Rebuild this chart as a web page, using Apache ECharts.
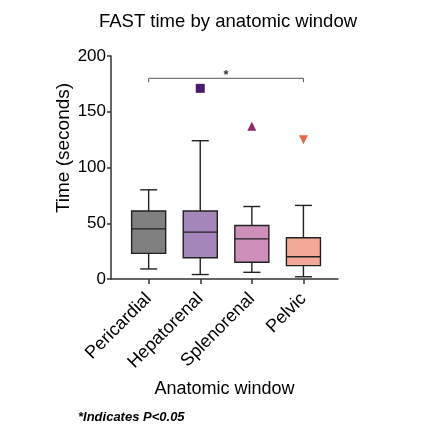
<!DOCTYPE html>
<html>
<head>
<meta charset="utf-8">
<script src="https://cdn.jsdelivr.net/npm/echarts@6/dist/echarts.min.js"></script>
<style>
  html, body { margin: 0; padding: 0; background: #fff; }
  #chart { width: 421px; height: 433px; }
</style>
</head>
<body>
<div id="chart"></div>
<script>
// values
const categories = ['Pericardial', 'Hepatorenal', 'Splenorenal', 'Pelvic'];
const whiskerLow = [9, 4, 6, 2];
const q1 = [23, 19, 15, 12];
const median = [45, 42, 36, 20];
const q3 = [61, 61, 48, 37];
const whiskerHigh = [80, 124, 65, 66];
const boxColors = ['#808080', '#a586bb', '#cb8fba', '#f4a897'];

const outlierIndex = [1, 2, 3];
const outlierValue = [171, 137, 125];
const outlierSymbol = ['rect', 'triangle', 'triangle'];
const outlierRotate = [0, 0, 180];
const outlierColor = ['#4a1b6b', '#8b2c6c', '#e8664e'];

const bracketX = [0, 0, 3, 3];
const bracketY = [176.5, 180, 180, 176.5];
const yTicks = { min: 0, max: 200, interval: 50 };

const chart = echarts.init(document.getElementById('chart'));

const boxData = categories.map((c, i) => [i, whiskerLow[i], q1[i], median[i], q3[i], whiskerHigh[i]]);
const outliers = outlierIndex.map((x, i) => ({
    value: [x, outlierValue[i]],
    symbol: outlierSymbol[i],
    symbolRotate: outlierRotate[i],
    itemStyle: { color: outlierColor[i], opacity: 1 }
}));

const lineColor = '#222';
const font = 'Liberation Sans, Arial, sans-serif';

const option = {
    animation: false,
    grid: { left: 111, right: 83, top: 56, bottom: 154 },
    xAxis: {
        type: 'value',
        min: -0.73,
        max: 3.67,
        splitLine: { show: false },
        axisLine: { onZero: false, lineStyle: { color: '#333', width: 1.5 } },
        axisTick: { customValues: [0, 1, 2, 3], length: 5, lineStyle: { color: '#333', width: 1.5 } },
        axisLabel: {
            customValues: [0, 1, 2, 3],
            formatter: v => categories[Math.round(v)],
            rotate: 45,
            margin: 17,
            color: '#000',
            fontSize: 18,
            fontFamily: font
        },
        name: 'Anatomic window',
        nameLocation: 'middle',
        nameGap: 101,
        nameTextStyle: { color: '#000', fontSize: 18, fontFamily: font }
    },
    yAxis: {
        type: 'value',
        min: yTicks.min,
        max: yTicks.max,
        interval: yTicks.interval,
        splitLine: { show: false },
        axisLine: { show: true, onZero: false, lineStyle: { color: '#333', width: 1.5 } },
        axisTick: { show: true, length: 4, lineStyle: { color: '#333', width: 1.5 } },
        axisLabel: { color: '#000', fontSize: 17, fontFamily: font, margin: 5 }
    },
    graphic: [
        {
            type: 'text', x: 228, y: 22,
            style: { text: 'FAST time by anatomic window', fill: '#000', font: '18.5px ' + font, align: 'center', verticalAlign: 'middle' }
        },
        {
            type: 'text', x: 64, y: 148, rotation: Math.PI / 2,
            style: { text: 'Time (seconds)', fill: '#000', font: '19px ' + font, align: 'center', verticalAlign: 'middle' }
        },
        {
            type: 'text', x: 78, y: 417,
            style: { text: '*Indicates P<0.05', fill: '#000', font: 'italic bold 13px ' + font, align: 'left', verticalAlign: 'middle' }
        }
    ],
    series: [
        {
            type: 'custom',
            data: boxData,
            encode: { x: 0, y: [1, 2, 3, 4, 5] },
            renderItem: function (params, api) {
                const x = api.value(0);
                const lo = api.coord([x, api.value(1)]);
                const b1 = api.coord([x, api.value(2)]);
                const md = api.coord([x, api.value(3)]);
                const b3 = api.coord([x, api.value(4)]);
                const hi = api.coord([x, api.value(5)]);
                const bw = api.size([0.66, 0])[0];
                const cw = bw / 2;
                const cx = lo[0];
                const ls = { stroke: lineColor, lineWidth: 1.4 };
                return {
                    type: 'group',
                    children: [
                        { type: 'line', shape: { x1: cx, y1: hi[1], x2: cx, y2: b3[1] }, style: ls },
                        { type: 'line', shape: { x1: cx, y1: b1[1], x2: cx, y2: lo[1] }, style: ls },
                        { type: 'line', shape: { x1: cx - cw / 2, y1: hi[1], x2: cx + cw / 2, y2: hi[1] }, style: ls },
                        { type: 'line', shape: { x1: cx - cw / 2, y1: lo[1], x2: cx + cw / 2, y2: lo[1] }, style: ls },
                        {
                            type: 'rect',
                            shape: { x: cx - bw / 2, y: b3[1], width: bw, height: b1[1] - b3[1] },
                            style: { fill: boxColors[params.dataIndex], stroke: lineColor, lineWidth: 1.4 }
                        },
                        { type: 'line', shape: { x1: cx - bw / 2, y1: md[1], x2: cx + bw / 2, y2: md[1] }, style: ls }
                    ]
                };
            }
        },
        {
            type: 'scatter',
            data: outliers,
            symbolSize: 9
        },
        {
            type: 'line',
            data: bracketX.map((x, i) => [x, bracketY[i]]),
            symbol: 'none',
            lineStyle: { color: '#555', width: 1 }
        },
        {
            type: 'scatter',
            data: [[1.5, 180]],
            symbolSize: 0,
            itemStyle: { color: 'rgba(0,0,0,0)' },
            label: {
                show: true,
                position: 'top',
                distance: -4,
                formatter: '*',
                color: '#000',
                fontSize: 13,
                fontWeight: 'bold',
                fontFamily: font
            }
        }
    ]
};

chart.setOption(option);
</script>
</body>
</html>
